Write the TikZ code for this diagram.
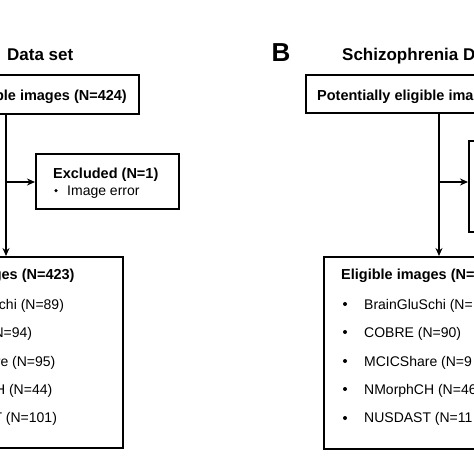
\documentclass[tikz,border=0pt]{standalone}
\usepackage{fontspec}
\setmainfont{Liberation Sans}
\usetikzlibrary{arrows.meta}
\tikzset{
  box/.style={draw, line width=1.7pt, rectangle, inner sep=0pt, anchor=north west},
  arr/.style={line width=1.5pt, -{Stealth[length=8pt,width=7pt]}},
  ttl/.style={inner sep=0pt, anchor=base west, font=\bfseries\fontsize{17}{20}\selectfont},
  hd/.style={inner sep=0pt, font=\bfseries\fontsize{14.5}{17}\selectfont},
  itm/.style={inner sep=0pt, anchor=base west, font=\fontsize{14}{17}\selectfont},
  bul/.style={circle, fill, inner sep=0pt, minimum size=4pt},
}
\begin{document}
\begin{tikzpicture}[x=1pt,y=-1pt]
\useasboundingbox (0,0) rectangle (474,474);
\clip (0,0) rectangle (474,474);
\fill[white] (0,0) rectangle (474,474);

% ---------- left panel ----------
\node[ttl] (titleL) at (7,60.7) {Data set};
\node[box, minimum width=270pt, minimum height=39pt] (topL) at (-132,74) {};
\node[hd, anchor=base east] (topLt) at (127,100) {Potentially eligible images (N=424)};
\node[box, minimum width=143pt, minimum height=55pt] (exL) at (35,153) {};
\node[hd, anchor=base west] (exLt) at (53,178.3) {Excluded (N=1)};
\node[bul, minimum size=3.5pt] (exLb) at (56,190.5) {};
\node[itm] (exLi) at (67,195.7) {Image error};
\node[box, minimum width=228pt, minimum height=191pt] (botL) at (-106,256) {};
\node[hd, anchor=base west] (botLt) at (-88,279) {Eligible images (N=423)};
\node[itm] (l1) at (-65,309) {BrainGluSchi (N=89)};
\node[itm] (l2) at (-65,337) {COBRE (N=94)};
\node[itm] (l3) at (-65,366) {MCICShare (N=95)};
\node[itm] (l4) at (-65,394.3) {NMorphCH (N=44)};
\node[itm] (l5) at (-65,422.7) {NUSDAST (N=101)};
\coordinate (jL) at (6,182);
\draw[arr] (topL.south -| jL) -- (botL.north -| jL);
\draw[arr] (jL) -- (jL -| exL.west);

% ---------- right panel ----------
\node[inner sep=0pt, anchor=base west, font=\bfseries\fontsize{26}{30}\selectfont] (labB) at (271.5,61) {B};
\node[ttl] (titleR) at (342,60.7) {Schizophrenia Data set};
\node[box, minimum width=300pt, minimum height=38pt] (topR) at (305,74) {};
\node[hd, anchor=base west] (topRt) at (317,100) {Potentially eligible images};
\node[box, minimum width=150pt, minimum height=91pt] (exR) at (468,140) {};
\node[box, minimum width=250pt, minimum height=192pt] (botR) at (323,256) {};
\node[hd, anchor=base west] (botRt) at (341,279) {Eligible images (N=};
\node[bul] (b1) at (345,304) {};
\node[itm] (r1) at (364,309) {BrainGluSchi (N=};
\node[bul] (b2) at (345,332) {};
\node[itm] (r2) at (364,337) {COBRE (N=90)};
\node[bul] (b3) at (345,361) {};
\node[itm] (r3) at (364,366) {MCICShare (N=9};
\node[bul] (b4) at (345,389) {};
\node[itm] (r4) at (364,394.3) {NMorphCH (N=46};
\node[bul] (b5) at (345,418) {};
\node[itm] (r5) at (364,422.7) {NUSDAST (N=11};
\coordinate (jR) at (439,182);
\draw[arr] (topR.south -| jR) -- (botR.north -| jR);
\draw[arr] (jR) -- (jR -| exR.west);
\end{tikzpicture}
\end{document}
